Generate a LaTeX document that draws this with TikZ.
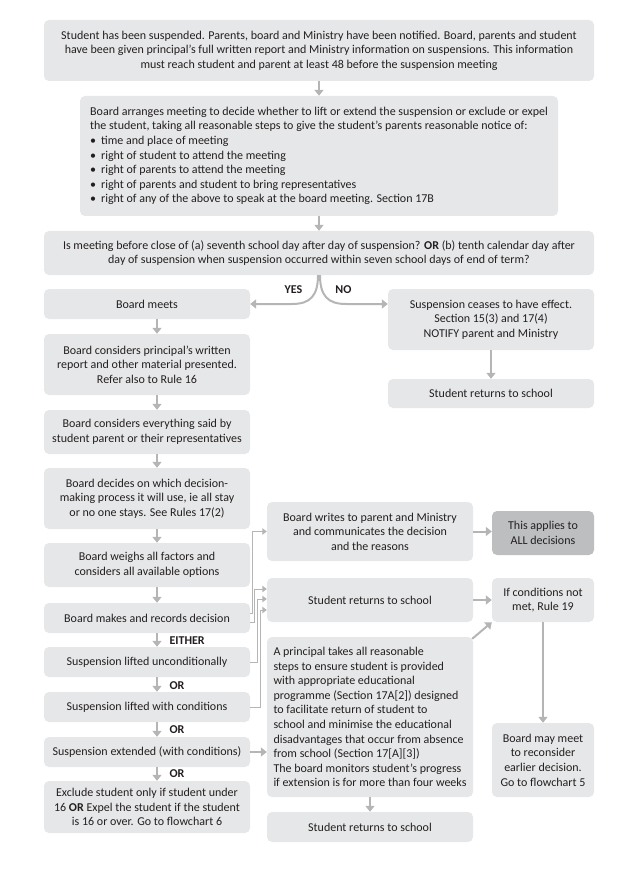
\documentclass[tikz,border=0pt]{standalone}
\usepackage{fontspec}
\setmainfont{Carlito}
\usetikzlibrary{arrows.meta}

\definecolor{boxfill}{HTML}{E6E7E8}
\definecolor{boxdark}{HTML}{BCBEC0}
\definecolor{linegray}{HTML}{B5B5B5}
\definecolor{ink}{HTML}{231F20}

\newcommand{\bulletitem}{\makebox[11pt][l]{\textbullet}}

\begin{document}
\begin{tikzpicture}[
  x=1pt, y=-1pt,
  every node/.style={font=\fontsize{12}{14.6}\selectfont, text=ink},
  box/.style={fill=boxfill, rounded corners=5pt, inner sep=0pt, align=center},
  wide/.style={box, minimum width=550pt},
  col/.style={box, minimum width=206pt},
  narrow/.style={box, minimum width=102pt},
  flow/.style={-{Triangle[length=6pt,width=9pt]}, line width=2pt, linegray},
  feed/.style={-{Triangle[length=4.5pt,width=6.5pt]}, line width=1pt, linegray},
  lbl/.style={font=\fontsize{12}{13}\selectfont\bfseries},
]

\useasboundingbox (0,0) rectangle (640,882);

\def\LX{147}   % left column centre
\def\MX{370}   % middle column centre
\def\RX{543}   % right column centre

% ── Top of the chart ──
\node[wide, minimum height=61pt] (notice) at (319,50.5)
  {Student has been suspended. Parents, board and Ministry have been notified. Board, parents and student\\
   have been given principal’s full written report and Ministry information on suspensions. This information\\
   must reach student and parent at least 48 before the suspension meeting};
\node[box, align=left, minimum width=478pt, minimum height=120pt] (arrange) at (319,156)
  {Board arranges meeting to decide whether to lift or extend the suspension or exclude or expel\\
   the student, taking all reasonable steps to give the student’s parents reasonable notice of:\\
   \bulletitem time and place of meeting\\
   \bulletitem right of student to attend the meeting\\
   \bulletitem right of parents to attend the meeting\\
   \bulletitem right of parents and student to bring representatives\\
   \bulletitem right of any of the above to speak at the board meeting. Section 17B};
\node[wide, minimum height=44pt] (deadline) at (319,253)
  {Is meeting before close of (a) seventh school day after day of suspension? \textbf{OR} (b) tenth calendar day after\\
   day of suspension when suspension occurred within seven school days of end of term?};

% ── Left column ──
\node[col, minimum height=30pt] (meets) at (\LX,304) {Board meets};
\node[col, minimum height=61pt] (report) at (\LX,364.5)
  {Board considers principal’s written\\ report and other material presented.\\ Refer also to Rule 16};
\node[col, minimum height=44pt] (said) at (\LX,432)
  {Board considers everything said by\\ student parent or their representatives};
\node[col, minimum height=61pt] (decides) at (\LX,498.5)
  {Board decides on which decision-\\ making process it will use, ie all stay\\ or no one stays. See Rules 17(2)};
\node[col, minimum height=44pt] (weighs) at (\LX,565)
  {Board weighs all factors and\\ considers all available options};
\node[col, minimum height=30pt] (records) at (\LX,618) {Board makes and records decision};
\node[col, minimum height=30pt] (uncond) at (\LX,662) {Suspension lifted unconditionally};
\node[col, minimum height=30pt] (cond) at (\LX,707) {Suspension lifted with conditions};
\node[col, minimum height=30pt] (extend) at (\LX,752) {Suspension extended (with conditions)};
\node[col, minimum height=52pt] (exclude) at (\LX,807)
  {Exclude student only if student under\\ 16 \textbf{OR} Expel the student if the student\\ is 16 or over. Go to flowchart 6};

% ── Middle column ──
\node[col, minimum height=59pt] (writes) at (\MX,531.5)
  {Board writes to parent and Ministry\\ and communicates the decision\\ and the reasons};
\node[col, minimum height=44pt] (returnmid) at (\MX,600) {Student returns to school};
\node[col, align=left, minimum height=160pt] (programme) at (\MX,717)
  {A principal takes all reasonable\\ steps to ensure student is provided\\ with appropriate educational\\
   programme (Section 17A[2]) designed\\ to facilitate return of student to\\ school and minimise the educational\\
   disadvantages that occur from absence\\ from school (Section 17[A][3])\\
   The board monitors student’s progress\\ if extension is for more than four weeks};
\node[col, minimum height=30pt] (returnlow) at (\MX,827) {Student returns to school};

% ── Right column ──
\node[col, minimum height=61pt] (ceases) at (491,319.5)
  {Suspension ceases to have effect.\\ Section 15(3) and 17(4)\\ NOTIFY parent and Ministry};
\node[col, minimum height=29pt] (returnright) at (491,393.5) {Student returns to school};
\node[narrow, fill=boxdark, minimum height=44pt] (applies) at (\RX,533) {This applies to\\ ALL decisions};
\node[narrow, minimum height=44pt] (notmet) at (\RX,600) {If conditions not\\ met, Rule 19};
\node[narrow, minimum height=74pt] (reconsider) at (\RX,760)
  {Board may meet\\ to reconsider\\ earlier decision.\\ Go to flowchart 5};

% ── Trunk arrows ──
\draw[flow] (notice) -- (arrange);
\draw[flow] (arrange) -- (deadline);
\draw[flow] ([xshift=-1pt]deadline.south) .. controls (318,296) and (310,304) .. (292,304) -- (meets.east);
\draw[flow] ([xshift=1pt]deadline.south) .. controls (320,296) and (328,304) .. (346,304)
  -- (meets.east -| ceases.west);
\node[lbl] (yes) at (293.5,290) {YES};
\node[lbl] (no) at (343.5,290) {NO};
\draw[flow] (ceases) -- (returnright);

% Left column arrows
\foreach \a/\b in {meets/report, report/said, said/decides, decides/weighs, weighs/records,
                   records/uncond, uncond/cond, cond/extend, extend/exclude}
  \draw[flow] ([xshift=10pt]\a.south) -- ([xshift=10pt]\b.north);
\node[lbl, anchor=west] (either) at (166,641) {EITHER};
\node[lbl, anchor=west] (or1) at (166,686) {OR};
\node[lbl, anchor=west] (or2) at (166,730) {OR};
\node[lbl, anchor=west] (or3) at (166,774) {OR};

% ── Decisions to middle column ──
\draw[feed] ([yshift=5pt]records.east) -- ++(2pt,0) |- (writes.west);
\draw[feed] ([yshift=-4pt]records.east) -- ++(4pt,0) |- ([yshift=11pt]returnmid.west);
\draw[feed] (uncond.east) -- ++(7pt,0) |- ([yshift=1pt]returnmid.west);
\draw[feed] (cond.east) -- ++(10pt,0) |- ([yshift=-10pt]returnmid.west);
\draw[flow] (extend.east) -- (extend.east -| programme.west);

% Middle to right
\draw[flow] (writes.east) -- (writes.east -| applies.west);
\draw[flow] (returnmid) -- (notmet);
\draw[flow] ([xshift=-1pt,yshift=-2pt]programme.north east) -- (notmet.south west);
\draw[flow] (notmet) -- (reconsider);
\draw[flow] (programme) -- (returnlow);

\end{tikzpicture}
\end{document}
